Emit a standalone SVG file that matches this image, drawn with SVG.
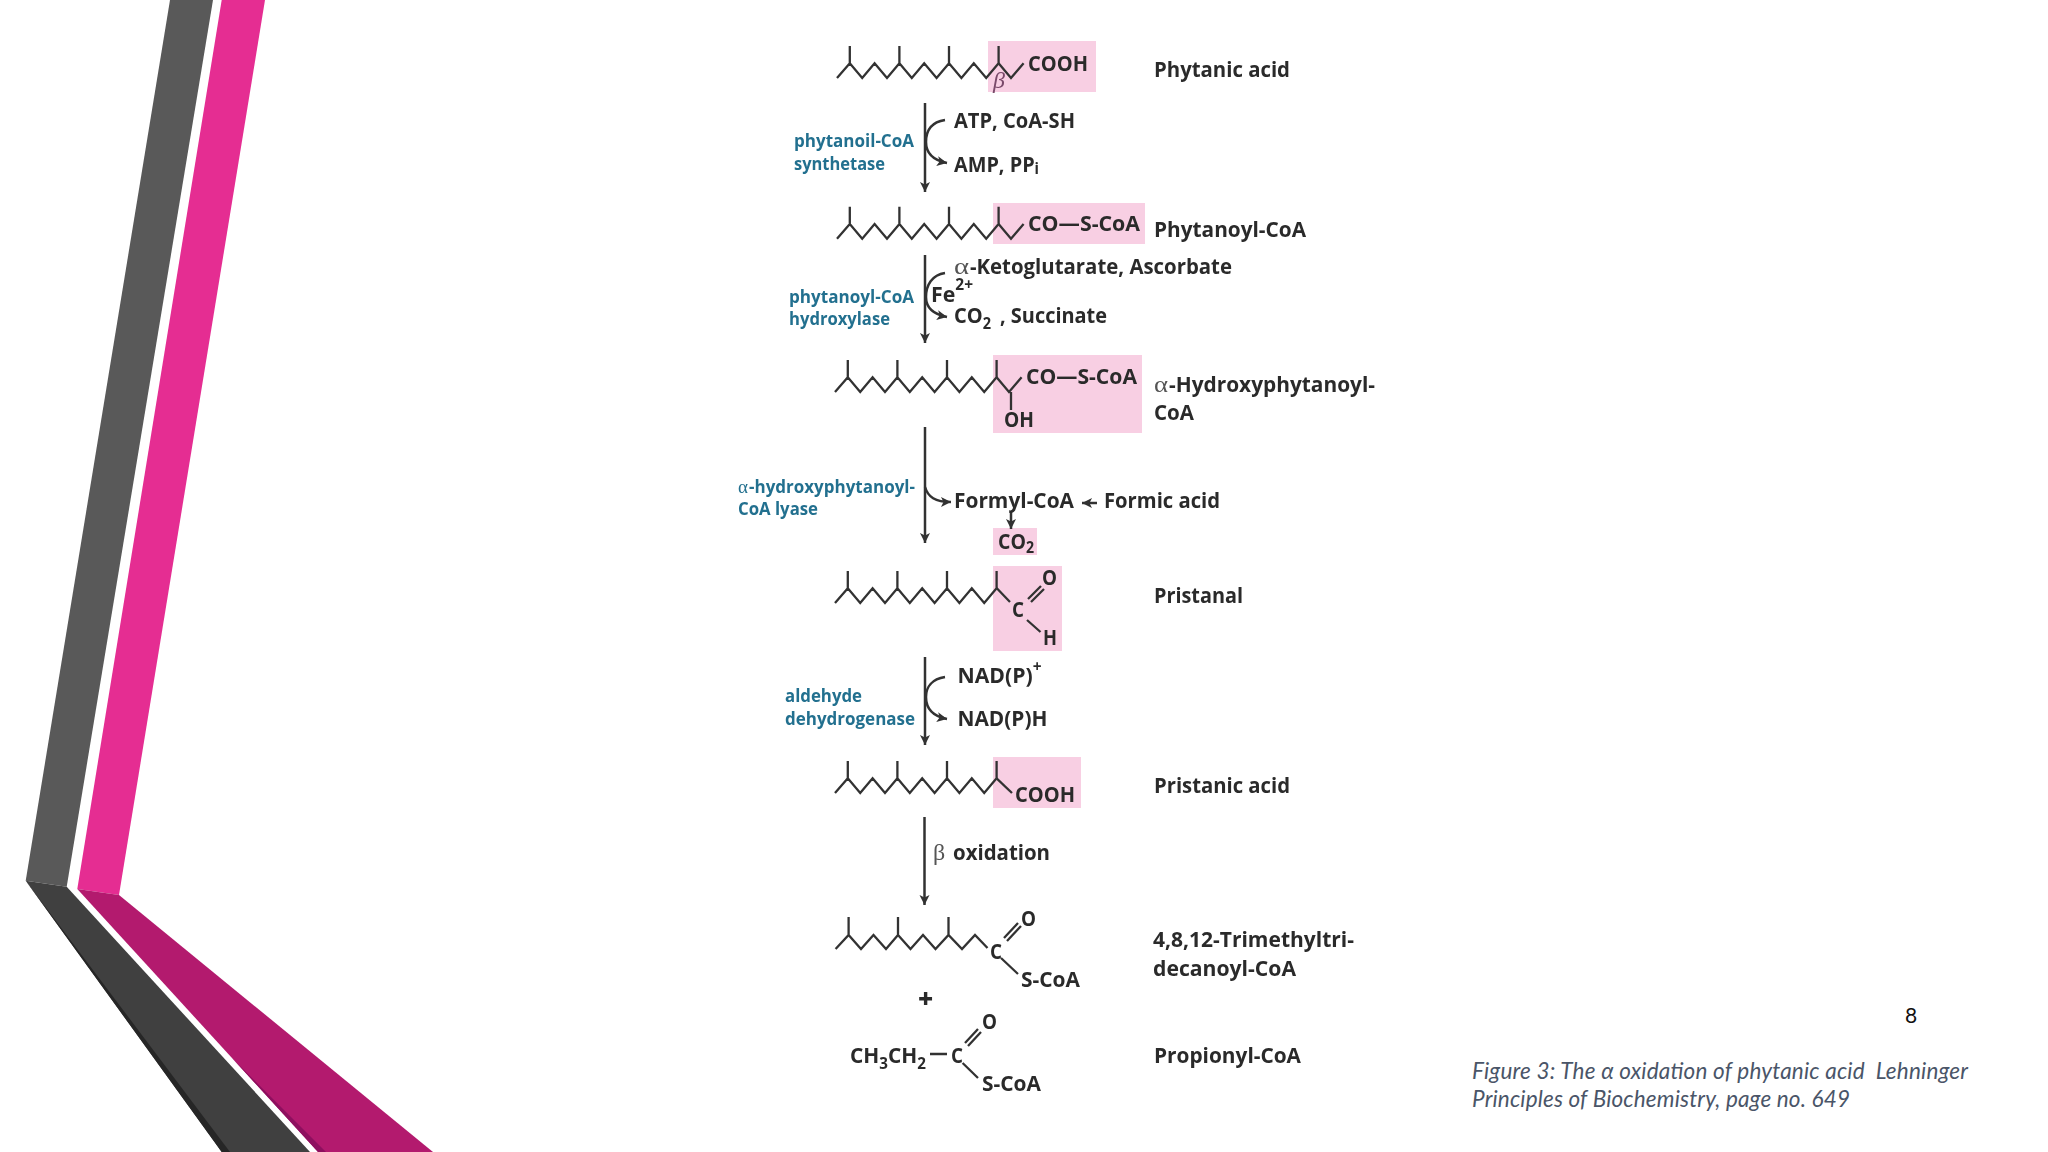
<svg xmlns="http://www.w3.org/2000/svg" width="2048" height="1152" viewBox="0 0 2048 1152">
<style>
text{font-family:"Open Sans","Liberation Sans",sans-serif}
.t{font-size:22px;font-weight:700;fill:#2b2b2b}
.s{font-size:16px;font-weight:700;fill:#2b2b2b}
.e{font-size:18.500px;font-weight:700;fill:#23708f}
.g{font-family:"Liberation Serif",serif;font-size:24px;fill:#555}
.b{fill:none;stroke:#333;stroke-width:2.300}
.a{fill:none;stroke:#333;stroke-width:2.500}
.h{fill:#f8cfe3}
.c{font-family:Lato,"Open Sans",sans-serif;font-style:italic;font-size:22.500px;fill:#4a5568}
</style>
<defs>
<filter id="soft" x="0" y="0" width="1" height="1"><feGaussianBlur stdDeviation="0.500"/></filter>
<marker id="ah" markerUnits="userSpaceOnUse" markerWidth="14" markerHeight="14" refX="11" refY="7" orient="auto"><path d="M1,2L11,7L1,12L3.500,7Z" fill="#333"/></marker>
<path id="c4" class="b" d="M0,0L12.800,-14.700L25.200,0L37.600,-14.700L50,0L62.400,-14.700L74.800,0L87.200,-14.700L99.600,0L112,-14.700L124.400,0L136.800,-14.700L149.200,0L161.600,-14.700M12.800,-14.700V-32M62.400,-14.700V-32M112,-14.700V-32M161.600,-14.700V-32"/>
</defs>
<rect width="2048" height="1152" fill="#fff"/>
<g id="decor">
<polygon points="170,0 213,0 66.700,886.700 25.700,880.700" fill="#595959"/>
<polygon points="221.700,0 265,0 119,895 77.300,889" fill="#e52d92"/>
<polygon points="25.700,880.700 66.700,886.700 310,1152 221.700,1152" fill="#404040"/>
<polygon points="25.700,880.700 221.700,1152 230,1152" fill="#262626"/>
<polygon points="77.300,889 119,895 433,1152 318,1152" fill="#b31a6e"/>
<polygon points="232,1058 318,1152 326,1152" fill="#8e0f5f"/>
</g>
<g filter="url(#soft)">
<g id="highlights">
<rect class="h" x="988" y="41" width="108" height="51"/>
<rect class="h" x="993" y="203" width="152" height="41"/>
<rect class="h" x="993" y="355" width="149" height="78"/>
<rect class="h" x="993" y="528" width="44" height="27"/>
<rect class="h" x="993" y="566" width="69" height="85"/>
<rect class="h" x="993" y="757" width="88" height="51"/>
</g>
<g id="connectors">
<path class="a" d="M925,103V192" marker-end="url(#ah)"/>
<path class="a" d="M945,120C932,122 926,130 926,142C926,152 932,160 947,163" marker-end="url(#ah)"/>
<path class="a" d="M925,255V343" marker-end="url(#ah)"/>
<path class="a" d="M945,273C932,275 926,285 926,297C926,306 932,314 947,317" marker-end="url(#ah)"/>
<path class="a" d="M925,427V543" marker-end="url(#ah)"/>
<path class="a" d="M925,487C928,497 935,502 951,502" marker-end="url(#ah)"/>
<path class="a" d="M1097,503H1082" marker-end="url(#ah)"/>
<path class="a" d="M1011,512V529" marker-end="url(#ah)"/>
<path class="a" d="M925,657V745" marker-end="url(#ah)"/>
<path class="a" d="M945,677C932,679 926,687 926,697C926,708 932,716 947,719" marker-end="url(#ah)"/>
<path class="a" d="M924.500,817V905" marker-end="url(#ah)"/>
</g>
<g id="phytanic-acid">
<use href="#c4" x="837" y="78"/>
<path class="b" d="M998.600,63.300L1011,78L1023.600,63.300"/>
<text x="993" y="88" style="font-family:'Liberation Serif',serif;font-style:italic;font-size:24px;fill:#7a4a6a">β</text>
<text class="t" x="1028" y="71" textLength="60" lengthAdjust="spacingAndGlyphs">COOH</text>
<text class="t" x="1154" y="77" textLength="136" lengthAdjust="spacingAndGlyphs">Phytanic acid</text>
</g>
<g id="step-synthetase">
<text class="t" x="954" y="128" textLength="121" lengthAdjust="spacingAndGlyphs">ATP, CoA-SH</text>
<text class="t" x="954" y="172" textLength="85" lengthAdjust="spacingAndGlyphs">AMP, PP<tspan dy="2" style="font-size:16px">i</tspan></text>
<text class="e" x="794" y="147" textLength="120" lengthAdjust="spacingAndGlyphs">phytanoil-CoA</text>
<text class="e" x="794" y="170" textLength="91" lengthAdjust="spacingAndGlyphs">synthetase</text>
</g>
<g id="phytanoyl-coa">
<use href="#c4" x="837" y="238.700"/>
<path class="b" d="M998.600,224L1011,238.700L1023.600,224"/>
<text class="t" x="1028" y="231" textLength="112" lengthAdjust="spacingAndGlyphs">CO—S-CoA</text>
<text class="t" x="1154" y="237" textLength="152" lengthAdjust="spacingAndGlyphs">Phytanoyl-CoA</text>
</g>
<g id="step-hydroxylase">
<text class="g" x="954" y="274" textLength="15" lengthAdjust="spacingAndGlyphs">α</text>
<text class="t" x="970" y="274" textLength="262" lengthAdjust="spacingAndGlyphs">-Ketoglutarate, Ascorbate</text>
<text class="t" x="931" y="302" textLength="42" lengthAdjust="spacingAndGlyphs">Fe<tspan dy="-12" style="font-size:16px">2+</tspan></text>
<text class="t" x="954" y="323" textLength="37" lengthAdjust="spacingAndGlyphs">CO<tspan dy="6" style="font-size:16px">2</tspan></text>
<text class="t" x="1000" y="323" textLength="107" lengthAdjust="spacingAndGlyphs">, Succinate</text>
<text class="e" x="789" y="303" textLength="125" lengthAdjust="spacingAndGlyphs">phytanoyl-CoA</text>
<text class="e" x="789" y="325" textLength="101" lengthAdjust="spacingAndGlyphs">hydroxylase</text>
</g>
<g id="hydroxyphytanoyl-coa">
<use href="#c4" x="835" y="392"/>
<path class="b" d="M996.600,377.300L1009,392L1021.600,377.300M1011,392V410"/>
<text class="t" x="1026" y="384" textLength="111" lengthAdjust="spacingAndGlyphs">CO—S-CoA</text>
<text class="t" x="1004" y="427" textLength="30" lengthAdjust="spacingAndGlyphs">OH</text>
<text class="g" x="1154" y="392" textLength="14" lengthAdjust="spacingAndGlyphs">α</text>
<text class="t" x="1169" y="392" textLength="206" lengthAdjust="spacingAndGlyphs">-Hydroxyphytanoyl-</text>
<text class="t" x="1154" y="420" textLength="40" lengthAdjust="spacingAndGlyphs">CoA</text>
</g>
<g id="step-lyase">
<text class="t" x="954" y="508" textLength="120" lengthAdjust="spacingAndGlyphs">Formyl-CoA</text>
<text class="t" x="1104" y="508" textLength="116" lengthAdjust="spacingAndGlyphs">Formic acid</text>
<text class="t" x="998" y="549" textLength="36" lengthAdjust="spacingAndGlyphs">CO<tspan dy="4" style="font-size:16px">2</tspan></text>
<text class="g" x="738" y="493" textLength="10" lengthAdjust="spacingAndGlyphs" style="font-size:19px;fill:#23708f">α</text>
<text class="e" x="749" y="493" textLength="166" lengthAdjust="spacingAndGlyphs">-hydroxyphytanoyl-</text>
<text class="e" x="738" y="515" textLength="80" lengthAdjust="spacingAndGlyphs">CoA lyase</text>
</g>
<g id="pristanal">
<use href="#c4" x="835" y="603"/>
<path class="b" d="M996.600,588L1010,602M1028,599L1041,586M1031,602L1044,589M1027,620L1040.500,632"/>
<text class="t" x="1012" y="617" textLength="12" lengthAdjust="spacingAndGlyphs">C</text>
<text class="t" x="1042" y="585" textLength="15" lengthAdjust="spacingAndGlyphs">O</text>
<text class="t" x="1043" y="645" textLength="14" lengthAdjust="spacingAndGlyphs">H</text>
<text class="t" x="1154" y="603" textLength="89" lengthAdjust="spacingAndGlyphs">Pristanal</text>
</g>
<g id="step-dehydrogenase">
<text class="t" x="957.500" y="683" textLength="84" lengthAdjust="spacingAndGlyphs">NAD(P)<tspan dy="-11" style="font-size:16px">+</tspan></text>
<text class="t" x="957.500" y="726" textLength="90" lengthAdjust="spacingAndGlyphs">NAD(P)H</text>
<text class="e" x="785" y="702" textLength="77" lengthAdjust="spacingAndGlyphs">aldehyde</text>
<text class="e" x="785" y="725" textLength="130" lengthAdjust="spacingAndGlyphs">dehydrogenase</text>
</g>
<g id="pristanic-acid">
<use href="#c4" x="835" y="793"/>
<path class="b" d="M996.600,778.300L1012,793"/>
<text class="t" x="1015" y="802" textLength="60" lengthAdjust="spacingAndGlyphs">COOH</text>
<text class="t" x="1154" y="793" textLength="136" lengthAdjust="spacingAndGlyphs">Pristanic acid</text>
</g>
<g id="step-beta-oxidation">
<text class="g" x="933" y="860">β</text>
<text class="t" x="953" y="860" textLength="97" lengthAdjust="spacingAndGlyphs">oxidation</text>
</g>
<g id="trimethyltridecanoyl-coa">
<path class="b" d="M835.600,949L848.600,935L861,949L873.500,935L886,949L898,935L910.500,949L923,935L935.500,949L948.500,935L962,949L975,935L987.500,948M848.600,935V917M898,935V917M948.500,935V917M1001,958L1018,974M1004,938L1018,923M1007,941L1021,926"/>
<text class="t" x="990" y="959" textLength="12" lengthAdjust="spacingAndGlyphs">C</text>
<text class="t" x="1021" y="926" textLength="15" lengthAdjust="spacingAndGlyphs">O</text>
<text class="t" x="1021" y="987" textLength="59" lengthAdjust="spacingAndGlyphs">S-CoA</text>
<text class="t" x="1153" y="947" textLength="201" lengthAdjust="spacingAndGlyphs">4,8,12-Trimethyltri-</text>
<text class="t" x="1153" y="976" textLength="143" lengthAdjust="spacingAndGlyphs">decanoyl-CoA</text>
</g>
<g id="plus"><text x="925.500" y="1008" text-anchor="middle" style="font-size:26px;font-weight:800;fill:#2b2b2b">+</text></g>
<g id="propionyl-coa">
<text class="t" x="850" y="1063" textLength="76" lengthAdjust="spacingAndGlyphs">CH<tspan dy="6" style="font-size:16px">3</tspan><tspan dy="-6">CH</tspan><tspan dy="6" style="font-size:16px">2</tspan></text>
<path class="b" d="M930,1054H947M965,1043L978,1029M968,1046L981,1032M962.600,1063L978,1078"/>
<text class="t" x="951" y="1063" textLength="12" lengthAdjust="spacingAndGlyphs">C</text>
<text class="t" x="982" y="1029" textLength="15" lengthAdjust="spacingAndGlyphs">O</text>
<text class="t" x="982" y="1091" textLength="59" lengthAdjust="spacingAndGlyphs">S-CoA</text>
<text class="t" x="1154" y="1063" textLength="147" lengthAdjust="spacingAndGlyphs">Propionyl-CoA</text>
</g>
</g>
<g id="footer">
<text x="1905" y="1023" style="font-family:Lato,sans-serif;font-size:21px;fill:#111">8</text>
<text class="c" x="1472" y="1079" xml:space="preserve" textLength="496">Figure 3: The α oxidation of phytanic acid  Lehninger</text>
<text class="c" x="1472" y="1107" textLength="378">Principles of Biochemistry, page no. 649</text>
</g>
</svg>
